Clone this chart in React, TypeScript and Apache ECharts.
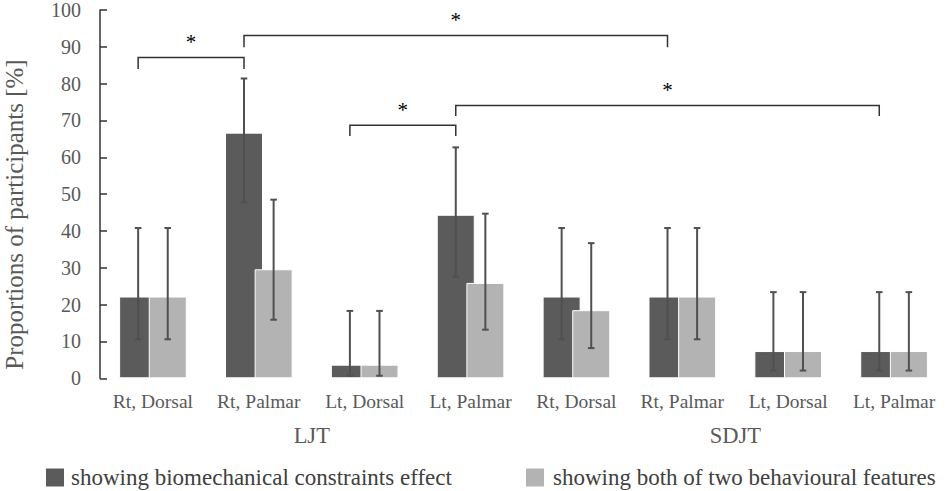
import React, { useEffect, useRef } from "react";
import * as echarts from "echarts";

const categories = ["Rt, Dorsal", "Rt, Palmar", "Lt, Dorsal", "Lt, Palmar", "Rt, Dorsal", "Rt, Palmar", "Lt, Dorsal", "Lt, Palmar"];
const groups = ["LJT", "SDJT"];
const seriesNames = ["showing biomechanical constraints effect", "showing both of two behavioural features"];

const biomech = [22.2, 66.7, 3.7, 44.4, 22.2, 22.2, 7.4, 7.4];
const biomechLow = [10.6, 47.8, 0.7, 27.6, 10.6, 10.6, 2.1, 2.1];
const biomechHigh = [40.8, 81.4, 18.3, 62.7, 40.8, 40.8, 23.4, 23.4];

const both = [22.2, 29.6, 3.7, 25.9, 18.5, 22.2, 7.4, 7.4];
const bothLow = [10.6, 15.9, 0.7, 13.2, 8.2, 10.6, 2.1, 2.1];
const bothHigh = [40.8, 48.5, 18.3, 44.7, 36.7, 40.8, 23.4, 23.4];

const bracketFrom = [0, 1, 2, 3];
const bracketTo = [1, 5, 3, 7];
const bracketLevel = [87.1, 93.1, 68.7, 74.1];
const bracketEnd = [84.0, 89.9, 65.8, 71.2];
const bracketMark = ["*", "*", "*", "*"];

const yTicks = { min: 0, max: 100, interval: 10 };

const FONT = "Liberation Serif";
const DARK = "#5b5b5b";
const LIGHT = "#b3b3b3";
const ERR = "#505050";
const BAR_OFFSET = 14.8;

export default function App() {
  const ref = useRef<HTMLDivElement>(null);
  useEffect(() => {
    if (!ref.current) return;
    const chart = echarts.init(ref.current, null, { renderer: "svg" });

    const errRender = (offset: number) => (params: any, api: any) => {
      const x = api.coord([api.value(0), 0])[0] + offset;
      const lo = api.coord([api.value(0), api.value(1)])[1];
      const hi = api.coord([api.value(0), api.value(2)])[1];
      const cap = 3.3;
      const style = { stroke: ERR, lineWidth: 2 };
      return {
        type: "group",
        children: [
          { type: "line", shape: { x1: x, y1: lo, x2: x, y2: hi }, style },
          { type: "line", shape: { x1: x - cap, y1: hi, x2: x + cap, y2: hi }, style },
          { type: "line", shape: { x1: x - cap, y1: lo, x2: x + cap, y2: lo }, style },
        ],
      };
    };

    const bracketRender = (params: any, api: any) => {
      const i = params.dataIndex;
      const x1 = api.coord([api.value(0), 0])[0] - BAR_OFFSET;
      const x2 = api.coord([api.value(1), 0])[0] - BAR_OFFSET;
      const yl = api.coord([api.value(0), api.value(2)])[1];
      const ye = api.coord([api.value(0), api.value(3)])[1];
      return {
        type: "group",
        children: [
          {
            type: "polyline",
            shape: { points: [[x1, ye], [x1, yl], [x2, yl], [x2, ye]] },
            style: { stroke: "#333333", lineWidth: 1.5, fill: null },
          },
          {
            type: "text",
            x: (x1 + x2) / 2,
            y: yl - 5,
            style: {
              text: bracketMark[i],
              fill: "#000000",
              fontFamily: FONT,
              fontSize: 21,
              align: "center",
              verticalAlign: "bottom",
            },
          },
        ],
      };
    };

    const option: any = {
      animation: false,
      backgroundColor: "#ffffff",
      textStyle: { fontFamily: FONT },
      grid: { left: 100, right: -9, top: 7.3, bottom: 112.7, containLabel: false },
      legend: [
        {
          data: [seriesNames[0]],
          left: 46,
          top: 466,
          padding: 0,
          icon: "rect",
          itemWidth: 18,
          itemHeight: 18,
          itemStyle: { borderWidth: 0 },
          textStyle: { fontFamily: FONT, fontSize: 23, color: "#404040", padding: [0, 0, 0, 2] },
        },
        {
          data: [seriesNames[1]],
          left: 526,
          top: 466,
          padding: 0,
          icon: "rect",
          itemWidth: 18,
          itemHeight: 18,
          itemStyle: { borderWidth: 0 },
          textStyle: { fontFamily: FONT, fontSize: 23, color: "#404040", padding: [0, 0, 0, 4] },
        },
      ],
      xAxis: [
        {
          type: "category",
          data: categories,
          axisLine: { show: false },
          axisTick: { show: false },
          axisLabel: { interval: 0, margin: 13, fontFamily: FONT, fontSize: 19.5, color: "#595959" },
        },
        {
          type: "category",
          data: groups,
          position: "bottom",
          axisLine: { show: false },
          axisTick: { show: false },
          axisLabel: { interval: 0, margin: 46, fontFamily: FONT, fontSize: 22.5, color: "#595959" },
        },
      ],
      yAxis: {
        type: "value",
        min: yTicks.min,
        max: yTicks.max,
        interval: yTicks.interval,
        axisLine: { show: true, lineStyle: { color: "#333333", width: 1.5 } },
        axisTick: { show: true, inside: true, length: 7, lineStyle: { color: "#333333", width: 1.5 } },
        splitLine: { show: false },
        axisLabel: { margin: 19, fontFamily: FONT, fontSize: 20, color: "#595959" },
      },
      graphic: [
        {
          type: "text",
          x: 14,
          y: 214.5,
          rotation: Math.PI / 2,
          style: {
            text: "Proportions of participants [%]",
            fontFamily: FONT,
            fontSize: 25,
            fill: "#595959",
            align: "center",
            verticalAlign: "middle",
          },
        },
      ],
      series: [
        {
          name: seriesNames[0],
          type: "bar",
          data: biomech,
          barWidth: 38,
          barGap: "-22%",
          itemStyle: { color: DARK, borderColor: "#ffffff", borderWidth: 1 },
          z: 2,
        },
        {
          name: seriesNames[1],
          type: "bar",
          data: both,
          barWidth: 38,
          barGap: "-22%",
          itemStyle: { color: LIGHT, borderColor: "#ffffff", borderWidth: 1 },
          z: 2,
        },
        {
          type: "custom",
          renderItem: errRender(-BAR_OFFSET),
          data: biomech.map((_, i) => [i, biomechLow[i], biomechHigh[i]]),
          encode: { x: 0, y: [1, 2] },
          z: 5,
          silent: true,
        },
        {
          type: "custom",
          renderItem: errRender(BAR_OFFSET),
          data: both.map((_, i) => [i, bothLow[i], bothHigh[i]]),
          encode: { x: 0, y: [1, 2] },
          z: 5,
          silent: true,
        },
        {
          type: "custom",
          renderItem: bracketRender,
          data: bracketFrom.map((f, i) => [f, bracketTo[i], bracketLevel[i], bracketEnd[i]]),
          encode: { x: [0, 1], y: [2, 3] },
          clip: false,
          z: 6,
          silent: true,
        },
      ],
    };
    chart.setOption(option);
    return () => chart.dispose();
  }, []);
  return (
    <div
      ref={ref}
      style={{ position: "fixed", left: 0, top: 0, width: 947, height: 491, background: "#fff" }}
    />
  );
}
